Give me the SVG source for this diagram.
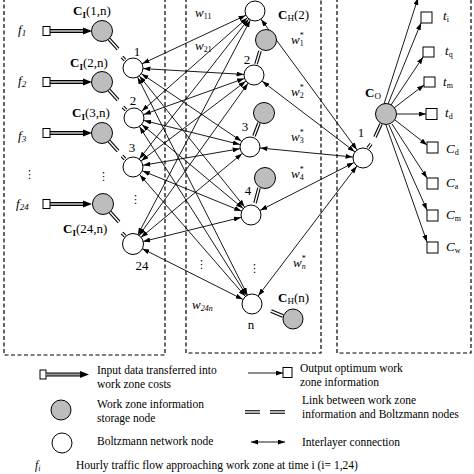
<svg xmlns="http://www.w3.org/2000/svg" width="474" height="474" viewBox="0 0 474 474">
<defs>
<style>
text{font-family:"Liberation Serif","Times New Roman",serif;fill:#000}
.dash{fill:none;stroke:#000;stroke-width:1.2;stroke-dasharray:4,2.5}
.bn{fill:#fff;stroke:#000;stroke-width:1}
.gn{fill:#bdbdbd;stroke:#000;stroke-width:1}
.conn{stroke:#000;stroke-width:0.9;fill:none;marker-start:url(#ah);marker-end:url(#ah)}
.out{stroke:#000;stroke-width:0.9;fill:none;marker-end:url(#ao)}
.lo{stroke:#000;stroke-width:3.6;fill:none}
.li{stroke:#fff;stroke-width:1.4;fill:none}
.ao{stroke:#000;stroke-width:4;fill:none}
.ai{stroke:#9a9a9a;stroke-width:1.8;fill:none}
.sq{fill:#fff;stroke:#000;stroke-width:1}
.lab{font-size:13px}
.bold{font-weight:bold}
.it{font-style:italic}
.leg{font-size:11.5px}
.dots{font-family:"DejaVu Sans",sans-serif;font-size:11px}
</style>
<marker id="ah" markerUnits="userSpaceOnUse" markerWidth="8" markerHeight="5" refX="17.5" refY="2.5" orient="auto-start-reverse"><path d="M0,0 L7,2.5 L0,5 z" fill="#000"/></marker>
<marker id="ao" markerUnits="userSpaceOnUse" markerWidth="8" markerHeight="5" refX="7" refY="2.5" orient="auto"><path d="M0,0 L7,2.5 L0,5 z" fill="#000"/></marker>
<marker id="al" markerUnits="userSpaceOnUse" markerWidth="8" markerHeight="5" refX="7" refY="2.5" orient="auto-start-reverse"><path d="M0,0 L7,2.5 L0,5 z" fill="#000"/></marker>
</defs>
<rect width="474" height="474" fill="#fff"/>
<!-- dashed boxes -->
<path class="dash" d="M4,-2 V355 H165 V-2"/>
<path class="dash" d="M186,-2 V353 H321 V-2"/>
<path class="dash" d="M337,-2 V353 H471 V-2"/>

<g id="connectors">
<!-- input to hidden -->
<line class="conn" x1="133" y1="68" x2="255" y2="11"/>
<line class="conn" x1="133" y1="68" x2="254" y2="75"/>
<line class="conn" x1="133" y1="68" x2="250" y2="147"/>
<line class="conn" x1="133" y1="68" x2="251" y2="215"/>
<line class="conn" x1="133" y1="68" x2="252" y2="304"/>
<line class="conn" x1="134" y1="118" x2="255" y2="11"/>
<line class="conn" x1="134" y1="118" x2="254" y2="75"/>
<line class="conn" x1="134" y1="118" x2="250" y2="147"/>
<line class="conn" x1="134" y1="118" x2="251" y2="215"/>
<line class="conn" x1="134" y1="118" x2="252" y2="304"/>
<line class="conn" x1="133" y1="167" x2="255" y2="11"/>
<line class="conn" x1="133" y1="167" x2="254" y2="75"/>
<line class="conn" x1="133" y1="167" x2="250" y2="147"/>
<line class="conn" x1="133" y1="167" x2="251" y2="215"/>
<line class="conn" x1="133" y1="167" x2="252" y2="304"/>
<line class="conn" x1="133" y1="244" x2="255" y2="11"/>
<line class="conn" x1="133" y1="244" x2="254" y2="75"/>
<line class="conn" x1="133" y1="244" x2="250" y2="147"/>
<line class="conn" x1="133" y1="244" x2="251" y2="215"/>
<line class="conn" x1="133" y1="244" x2="252" y2="304"/>
<!-- hidden to output -->
<line class="conn" x1="255" y1="11" x2="363" y2="158"/>
<line class="conn" x1="254" y1="75" x2="363" y2="158"/>
<line class="conn" x1="250" y1="147" x2="363" y2="158"/>
<line class="conn" x1="251" y1="215" x2="363" y2="158"/>
<line class="conn" x1="252" y1="304" x2="363" y2="158"/>
<!-- output lines -->
<line class="out" x1="384" y1="104" x2="418" y2="-2"/>
<line class="out" x1="388" y1="104" x2="421" y2="23"/>
<line class="out" x1="391" y1="105" x2="423" y2="57"/>
<line class="out" x1="394" y1="108" x2="424" y2="85"/>
<line class="out" x1="397" y1="114" x2="426" y2="114"/>
<line class="out" x1="395" y1="120" x2="427" y2="145"/>
<line class="out" x1="392" y1="124" x2="427" y2="178"/>
<line class="out" x1="389" y1="125" x2="427" y2="210"/>
<line class="out" x1="386" y1="125" x2="427" y2="242"/>
<!-- input double arrows -->
<g id="in-arrows">
<line class="ao" x1="50" y1="31" x2="85" y2="31"/><line class="ai" x1="50" y1="31" x2="85" y2="31"/><polygon points="83,27.5 92,31 83,34.5"/>
<line class="ao" x1="50" y1="82" x2="85" y2="82"/><line class="ai" x1="50" y1="82" x2="85" y2="82"/><polygon points="83,78.5 92,82 83,85.5"/>
<line class="ao" x1="50" y1="133" x2="85" y2="133"/><line class="ai" x1="50" y1="133" x2="85" y2="133"/><polygon points="83,129.5 92,133 83,136.5"/>
<line class="ao" x1="50" y1="204" x2="85" y2="204"/><line class="ai" x1="50" y1="204" x2="85" y2="204"/><polygon points="83,200.5 92,204 83,207.5"/>
</g>
<!-- storage links -->
<g id="links">
<line class="lo" x1="109" y1="39" x2="118" y2="49"/><line class="li" x1="109" y1="39" x2="118" y2="49"/>
<line class="lo" x1="109" y1="90" x2="118" y2="100"/><line class="li" x1="109" y1="90" x2="118" y2="100"/>
<line class="lo" x1="109" y1="141" x2="118" y2="151"/><line class="li" x1="109" y1="141" x2="118" y2="151"/>
<line class="lo" x1="110" y1="212" x2="119" y2="222"/><line class="li" x1="110" y1="212" x2="119" y2="222"/>
<line class="lo" x1="122" y1="57" x2="125" y2="60"/><line class="li" x1="122" y1="57" x2="125" y2="60"/>
<line class="lo" x1="123" y1="107" x2="126" y2="110"/><line class="li" x1="123" y1="107" x2="126" y2="110"/>
<line class="lo" x1="122" y1="156" x2="125" y2="159"/><line class="li" x1="122" y1="156" x2="125" y2="159"/>
<line class="lo" x1="122" y1="233" x2="125" y2="236"/><line class="li" x1="122" y1="233" x2="125" y2="236"/>
<line class="lo" x1="260" y1="51" x2="256" y2="64"/><line class="li" x1="260" y1="51" x2="256" y2="64"/>
<line class="lo" x1="259" y1="123" x2="254" y2="136"/><line class="li" x1="259" y1="123" x2="254" y2="136"/>
<line class="lo" x1="259" y1="188" x2="255" y2="203"/><line class="li" x1="259" y1="188" x2="255" y2="203"/>
<line class="lo" x1="271" y1="311" x2="283" y2="316"/><line class="li" x1="271" y1="311" x2="283" y2="316"/>
<line class="lo" x1="381" y1="124" x2="375" y2="137"/><line class="li" x1="381" y1="124" x2="375" y2="137"/>
<line class="lo" x1="368" y1="148" x2="371" y2="144"/><line class="li" x1="368" y1="148" x2="371" y2="144"/>
</g>
</g>

<!-- input squares -->
<g id="inputs">
<rect class="sq" x="43" y="26.5" width="7" height="9"/>
<rect class="sq" x="43" y="77.5" width="7" height="9"/>
<rect class="sq" x="43" y="128.5" width="7" height="9"/>
<rect class="sq" x="43" y="199.5" width="7" height="9"/>
<text class="lab it" x="18" y="34">f<tspan font-size="9" dy="2">1</tspan></text>
<text class="lab it" x="18" y="85">f<tspan font-size="9" dy="2">2</tspan></text>
<text class="lab it" x="18" y="140">f<tspan font-size="9" dy="2">3</tspan></text>
<text class="lab it" x="16" y="208">f<tspan font-size="9" dy="2">24</tspan></text>
<text class="dots" x="24" y="178">⋮</text>
<text class="dots" x="98" y="180">⋮</text>
<text class="dots" x="130" y="203">⋮</text>
</g>

<g id="CI1"><circle class="gn" cx="102" cy="31" r="10.5"/><text class="lab" x="73" y="15"><tspan class="bold">C</tspan><tspan font-size="9" dy="3" class="bold">I</tspan><tspan dy="-3">(1,n)</tspan></text></g>
<g id="CI2"><circle class="gn" cx="102" cy="82" r="10.5"/><text class="lab" x="70" y="67"><tspan class="bold">C</tspan><tspan font-size="9" dy="3" class="bold">I</tspan><tspan dy="-3">(2,n)</tspan></text></g>
<g id="CI3"><circle class="gn" cx="102" cy="133" r="10.5"/><text class="lab" x="72" y="117"><tspan class="bold">C</tspan><tspan font-size="9" dy="3" class="bold">I</tspan><tspan dy="-3">(3,n)</tspan></text></g>
<g id="CI24"><circle class="gn" cx="103" cy="204" r="10.5"/><text class="lab" x="63" y="233"><tspan class="bold">C</tspan><tspan font-size="9" dy="3" class="bold">I</tspan><tspan dy="-3">(24,n)</tspan></text></g>

<g id="I1"><circle class="bn" cx="133" cy="68" r="10"/><text class="lab" x="137" y="56" text-anchor="middle">1</text></g>
<g id="I2"><circle class="bn" cx="134" cy="118" r="10"/><text class="lab" x="133" y="105" text-anchor="middle">2</text></g>
<g id="I3"><circle class="bn" cx="133" cy="167" r="10"/><text class="lab" x="132" y="152" text-anchor="middle">3</text></g>
<g id="I24"><circle class="bn" cx="133" cy="244" r="10.5"/><text class="lab" x="142" y="270" text-anchor="middle">24</text></g>

<g id="H1"><circle class="bn" cx="255" cy="11" r="10"/></g>
<g id="H2"><circle class="bn" cx="254" cy="75" r="10"/><text class="lab" x="247" y="64" text-anchor="middle">2</text></g>
<g id="CH2"><circle class="gn" cx="266" cy="40" r="10.5"/><text class="lab" x="278" y="19"><tspan class="bold">C</tspan><tspan font-size="9" dy="2">H</tspan><tspan dy="-2">(2)</tspan></text></g>
<g id="H3"><circle class="bn" cx="250" cy="147" r="10"/><text class="lab" x="245" y="131" text-anchor="middle">3</text></g>
<g id="CH3"><circle class="gn" cx="264" cy="113" r="10.5"/></g>
<g id="H4"><circle class="bn" cx="251" cy="215" r="10"/><text class="lab" x="248" y="195" text-anchor="middle">4</text></g>
<g id="CH4"><circle class="gn" cx="265" cy="178" r="10.5"/></g>
<g id="Hn"><circle class="bn" cx="252" cy="304" r="10"/><text class="lab" x="251" y="329" text-anchor="middle">n</text></g>
<g id="CHn"><circle class="gn" cx="293" cy="319" r="10"/><text class="lab" x="278" y="302"><tspan class="bold">C</tspan><tspan font-size="9" dy="2">H</tspan><tspan dy="-2">(n)</tspan></text></g>
<text class="dots" x="196" y="268">⋮</text>
<text class="dots" x="249" y="272">⋮</text>

<g id="weights">
<text class="lab" x="195" y="17"><tspan class="it">w</tspan><tspan font-size="8" dy="2">11</tspan></text>
<text class="lab" x="195" y="50"><tspan class="it">w</tspan><tspan font-size="8" dy="2">21</tspan></text>
<text class="lab" x="192" y="309"><tspan class="it">w</tspan><tspan font-size="8" dy="2" class="it">24n</tspan></text>
<text class="lab" x="291" y="44"><tspan class="it">w</tspan><tspan font-size="8" dy="-6">*</tspan><tspan font-size="8" dx="-4" dy="8">1</tspan></text>
<text class="lab" x="291" y="96"><tspan class="it">w</tspan><tspan font-size="8" dy="-6">*</tspan><tspan font-size="8" dx="-4" dy="8">2</tspan></text>
<text class="lab" x="291" y="141"><tspan class="it">w</tspan><tspan font-size="8" dy="-6">*</tspan><tspan font-size="8" dx="-4" dy="8">3</tspan></text>
<text class="lab" x="291" y="178"><tspan class="it">w</tspan><tspan font-size="8" dy="-6">*</tspan><tspan font-size="8" dx="-4" dy="8">4</tspan></text>
<text class="lab" x="293" y="267"><tspan class="it">w</tspan><tspan font-size="8" dy="-6">*</tspan><tspan font-size="8" dx="-4" dy="8" class="it">n</tspan></text>
</g>

<g id="O1"><circle class="bn" cx="363" cy="158" r="10"/><text class="lab" x="361" y="137" text-anchor="middle">1</text></g>
<g id="CO"><circle class="gn" cx="386" cy="114" r="10.5"/><text class="lab" x="365" y="97"><tspan class="bold">C</tspan><tspan font-size="9" dy="2">O</tspan></text></g>

<g id="outputs">
<rect class="sq" x="421" y="12" width="11" height="11"/>
<rect class="sq" x="423" y="47" width="11" height="10"/>
<rect class="sq" x="424" y="77" width="11" height="10"/>
<rect class="sq" x="426" y="108.5" width="11" height="11"/>
<rect class="sq" x="427" y="142" width="11" height="11"/>
<rect class="sq" x="427" y="178" width="11" height="11"/>
<rect class="sq" x="427" y="210" width="11" height="11"/>
<rect class="sq" x="427" y="242" width="11" height="11"/>
<text class="lab it" x="443" y="20">t<tspan font-size="8" dy="2" font-style="normal">i</tspan></text>
<text class="lab it" x="445" y="55">t<tspan font-size="8" dy="2" font-style="normal">q</tspan></text>
<text class="lab it" x="443" y="86">t<tspan font-size="8" dy="2" font-style="normal">m</tspan></text>
<text class="lab it" x="445" y="117">t<tspan font-size="8" dy="2" font-style="normal">d</tspan></text>
<text class="lab it" x="446" y="153">C<tspan font-size="8" dy="2" font-style="normal">d</tspan></text>
<text class="lab it" x="446" y="187">C<tspan font-size="8" dy="2" font-style="normal">a</tspan></text>
<text class="lab it" x="446" y="219">C<tspan font-size="8" dy="2" font-style="normal">m</tspan></text>
<text class="lab it" x="446" y="251">C<tspan font-size="8" dy="2" font-style="normal">w</tspan></text>
</g>

<g id="legend">
<rect class="sq" x="40" y="370" width="6" height="9"/>
<line class="ao" x1="46" y1="374.5" x2="82" y2="374.5"/><line class="ai" x1="46" y1="374.5" x2="82" y2="374.5"/><polygon points="80,371 89,374.5 80,378"/>
<text class="leg" x="97" y="374">Input data transferred into</text>
<text class="leg" x="97" y="388">work zone costs</text>
<circle class="gn" cx="61" cy="410" r="10"/>
<text class="leg" x="97" y="408">Work zone information</text>
<text class="leg" x="97" y="422">storage node</text>
<circle class="bn" cx="62" cy="443" r="10"/>
<text class="leg" x="97" y="445">Boltzmann network node</text>
<line class="out" x1="248" y1="373" x2="283" y2="373"/>
<rect class="sq" x="283" y="367.5" width="9" height="10"/>
<text class="leg" x="300" y="372">Output optimum work</text>
<text class="leg" x="300" y="386">zone information</text>
<line class="lo" x1="245" y1="412" x2="260" y2="412"/><line class="li" x1="245" y1="412" x2="260" y2="412"/>
<line class="lo" x1="270" y1="412" x2="285" y2="412"/><line class="li" x1="270" y1="412" x2="285" y2="412"/>
<text class="leg" x="302" y="404">Link between work zone</text>
<text class="leg" x="302" y="418">information and Boltzmann nodes</text>
<line stroke="#000" stroke-width="0.9" x1="251" y1="442" x2="285" y2="442" marker-start="url(#al)" marker-end="url(#al)"/>
<text class="leg" x="302" y="446">Interlayer connection</text>
<text class="leg it" x="35" y="469">f<tspan font-size="8" dy="2">i</tspan></text>
<text class="leg" x="76" y="469">Hourly traffic flow approaching work zone at time i (i= 1,24)</text>
</g>
</svg>
